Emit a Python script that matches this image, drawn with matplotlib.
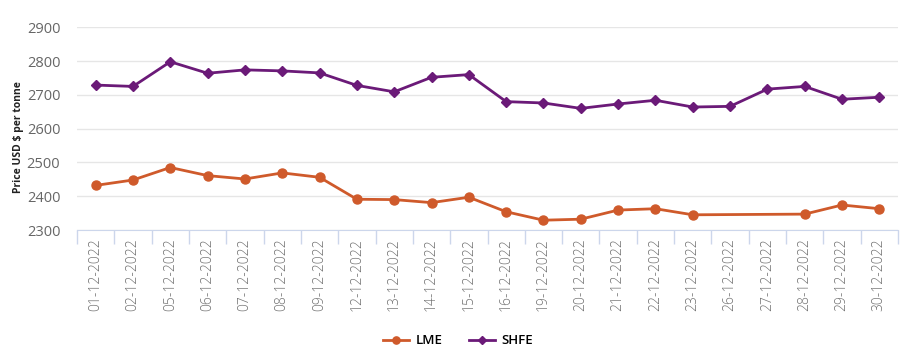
import numpy as np
import matplotlib
matplotlib.use("Agg")
import matplotlib.pyplot as plt

dates = ['01-12-2022', '02-12-2022', '05-12-2022', '06-12-2022', '07-12-2022',
         '08-12-2022', '09-12-2022', '12-12-2022', '13-12-2022', '14-12-2022',
         '15-12-2022', '16-12-2022', '19-12-2022', '20-12-2022', '21-12-2022',
         '22-12-2022', '23-12-2022', '26-12-2022', '27-12-2022', '28-12-2022',
         '29-12-2022', '30-12-2022']
lme = [2432, 2448, 2485, 2461, 2451, 2469, 2456, 2391, 2390, 2381, 2397,
       2354, 2329, 2332, 2359, 2363, 2345, np.nan, np.nan, 2347, 2374, 2363]
shfe = [2729, 2725, 2798, 2764, 2774, 2771, 2765, 2728, 2709, 2752, 2760,
        2680, 2676, 2660, 2673, 2684, 2664, 2666, 2717, 2725, 2687, 2693]

lme_color = '#cf5a2b'
shfe_color = '#6b1a78'

fig = plt.figure(figsize=(9.07, 3.55), dpi=100)
ax = fig.add_axes([77/907, 1-230/355, (898-77)/907, (230-27.3)/355])

x = np.arange(len(dates))
lme = np.array(lme, dtype=float)
ok = ~np.isnan(lme)
# LME has no quotes on 26th/27th, line just joins across the gap
ax.plot(x[ok], lme[ok], color=lme_color, lw=2, marker='o', ms=6.5, label='LME', zorder=3)
ax.plot(x, shfe, color=shfe_color, lw=2, marker='D', ms=5, label='SHFE', zorder=3)

ax.set_ylim(2300, 2900)
ax.set_yticks(range(2300, 3000, 100))
ax.set_xlim(-0.5, 21.22)
ax.set_xticks(x)
ax.set_xticklabels(dates, rotation=90, fontsize=10, color='#707070',
                   family='Open Sans', fontweight='light')
ax.set_xticks(np.arange(-0.5, len(dates), 1), minor=True)
ax.tick_params(axis='x', which='major', length=0, pad=6)
ax.tick_params(axis='x', which='minor', length=10, color='#ccd6eb', width=1)
ax.tick_params(axis='y', length=0, labelsize=10.5, labelcolor='#666666', pad=12)
for lab in ax.get_yticklabels():
    lab.set_family('Open Sans')

ax.grid(axis='y', color='#e6e6e6', lw=1)
ax.set_axisbelow(True)
for s in ['top', 'right', 'left']:
    ax.spines[s].set_visible(False)
ax.spines['bottom'].set_color('#ccd6eb')

ax.set_ylabel('Price USD $ per tonne', fontsize=7.5, fontweight='bold',
              family='Open Sans', color='#222222')
ax.yaxis.set_label_coords(-0.064, 0.46)

fig.legend(loc='center', bbox_to_anchor=(458/907, 1-341/355), ncol=2, frameon=False,
           prop={'family': 'Open Sans', 'size': 9.5, 'weight': 'semibold'},
           handlelength=2, columnspacing=2.0, handletextpad=0.5, markerscale=0.8)

fig.savefig('out.png', dpi=100)
